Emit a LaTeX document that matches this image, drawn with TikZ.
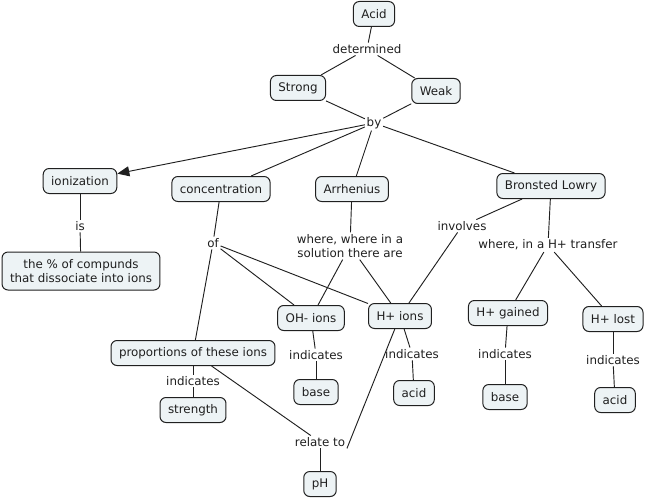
\documentclass[tikz,border=0pt]{standalone}
\usepackage{fontspec}
\setmainfont{DejaVu Sans}
\usetikzlibrary{arrows.meta}
\definecolor{boxc}{HTML}{EDF3F5}
\definecolor{linec}{HTML}{202020}
\tikzset{
  cbox/.style={draw=linec, line width=0.75pt, fill=boxc, rounded corners=4.5pt,
    minimum height=18.75pt, inner xsep=6pt, inner ysep=2pt, align=center,
    font=\fontsize{8.9}{10.8}\selectfont, text=black!88},
  lbl/.style={inner sep=1.2pt, align=center, font=\fontsize{8.9}{10.8}\selectfont, text=black!88},
  conn/.style={draw=linec, line width=0.7pt},
  arr/.style={conn, -{Triangle[length=9pt,width=7.5pt]}}
}
\begin{document}
\begin{tikzpicture}[x=0.75pt,y=-0.75pt]
\useasboundingbox (0,0) rectangle (645,499);
% concept nodes
\node[cbox] (acid) at (374,14) {Acid};
\node[cbox] (strong) at (298,88) {Strong};
\node[cbox] (weak) at (436,91) {Weak};
\node[cbox] (ioniz) at (80,181) {ionization};
\node[cbox] (conc) at (221,189) {concentration};
\node[cbox] (arrh) at (352,189) {Arrhenius};
\node[cbox] (bl) at (551,186) {Bronsted Lowry};
\node[cbox, minimum height=28.5pt] (pct) at (81,271) {the \% of compunds\\that dissociate into ions};
\node[cbox] (ohi) at (311,318) {OH- ions};
\node[cbox] (hi) at (400,316) {H+ ions};
\node[cbox] (hg) at (508,313) {H+ gained};
\node[cbox] (hl) at (613,319) {H+ lost};
\node[cbox] (prop) at (193,353) {proportions of these ions};
\node[cbox] (strength) at (193,410) {strength};
\node[cbox] (base1) at (316,392) {base};
\node[cbox] (acid1) at (414,393) {acid};
\node[cbox] (base2) at (505,397) {base};
\node[cbox] (acid2) at (615,400) {acid};
\node[cbox] (ph) at (320,484) {pH};
% linking phrases
\node[lbl] (det) at (367,49) {determined};
\node[lbl] (by) at (374,123) {by};
\node[lbl] (is) at (80,226) {is};
\node[lbl] (of) at (213,243) {of};
\node[lbl] (where1) at (350,246) {where, where in a\\solution there are};
\node[lbl] (inv) at (462,226) {involves};
\node[lbl] (where2) at (548,245) {where, in a H+ transfer};
\node[lbl] (ind1) at (193,381) {indicates};
\node[lbl] (ind2) at (316,355) {indicates};
\node[lbl] (ind3) at (412,354) {indicates};
\node[lbl] (ind4) at (505,354) {indicates};
\node[lbl] (ind5) at (613,360) {indicates};
\node[lbl] (rel) at (320,442) {relate to};
% connectors
\draw[conn] (acid) -- (det);
\draw[conn] (det) -- (strong);
\draw[conn] (det) -- (weak);
\draw[conn] (strong) -- (by);
\draw[conn] (weak) -- (by);
\draw[arr] (by) -- (ioniz);
\draw[conn] (by) -- (conc);
\draw[conn] (by) -- (arrh);
\draw[conn] (by) -- (bl);
\draw[conn] (ioniz) -- (is);
\draw[conn] (is) -- (pct);
\draw[conn] (conc) -- (of);
\draw[conn] (of) -- (prop);
\draw[conn] (of) -- (ohi);
\draw[conn] (of) -- (hi);
\draw[conn] (arrh) -- (where1);
\draw[conn] (where1) -- (ohi);
\draw[conn] (where1) -- (hi);
\draw[conn] (bl) -- (inv);
\draw[conn] (inv) -- (hi);
\draw[conn] (bl) -- (where2);
\draw[conn] (where2) -- (hg);
\draw[conn] (where2) -- (hl);
\draw[conn] (prop) -- (ind1);
\draw[conn] (ind1) -- (strength);
\draw[conn] (ohi) -- (ind2);
\draw[conn] (ind2) -- (base1);
\draw[conn] (hi) -- (ind3);
\draw[conn] (ind3) -- (acid1);
\draw[conn] (hg) -- (ind4);
\draw[conn] (ind4) -- (base2);
\draw[conn] (hl) -- (ind5);
\draw[conn] (ind5) -- (acid2);
\draw[conn] (prop) -- (rel);
\draw[conn] (hi) -- (rel.south east);
\draw[conn] (rel) -- (ph);
\end{tikzpicture}
\end{document}
